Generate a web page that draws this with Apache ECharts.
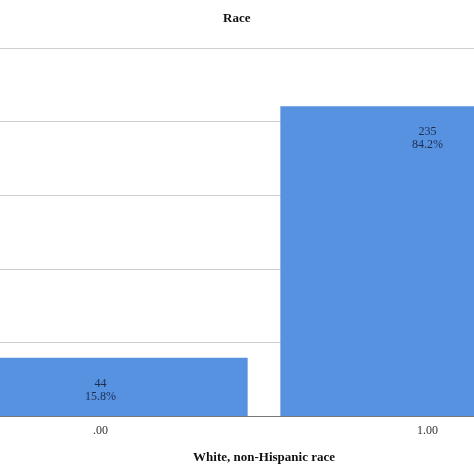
<!DOCTYPE html>
<html><head><meta charset="utf-8">
<script src="https://cdn.jsdelivr.net/npm/echarts@6/dist/echarts.min.js"></script>
<style>html,body{margin:0;padding:0;background:#fff;overflow:hidden;width:474px;height:474px}#c{position:absolute;left:-63px;top:0;width:654px;height:474px}</style>
</head><body><div id="c"></div>
<script>
const categories = ['.00', '1.00'];
const counts = [44, 235];
const percents = [15.8, 84.2];
const yTicks = [0, 20, 40, 60, 80, 100];

const chart = echarts.init(document.getElementById('c'));
chart.setOption({
  animation: false,
  graphic: [{
    type: 'text', left: 300 - 14, top: 12,
    style: { text: 'Race', font: 'bold 13px "Liberation Serif"', fill: '#111' }
  }],
  grid: { left: 0, right: 0, top: 48, height: 368 },
  xAxis: {
    type: 'category', data: categories,
    name: 'White, non-Hispanic race', nameLocation: 'middle', nameGap: 35,
    nameTextStyle: { fontFamily: 'Liberation Serif', fontSize: 13, fontWeight: 'bold', color: '#111' },
    axisLine: { show: true, lineStyle: { color: '#777', width: 1 } },
    axisTick: { show: false },
    axisLabel: { fontFamily: 'Liberation Serif', fontSize: 12, color: '#333', margin: 9 }
  },
  yAxis: {
    type: 'value', min: yTicks[0], max: yTicks[yTicks.length - 1], interval: 20,
    axisLabel: { show: false }, axisLine: { show: false }, axisTick: { show: false },
    splitLine: { show: true, lineStyle: { color: '#cfcfcf', width: 1 } }
  },
  series: [{
    type: 'bar', data: percents, barCategoryGap: '10%',
    itemStyle: { color: '#5692e0' },
    label: {
      show: true, position: 'insideTop', distance: 19,
      fontFamily: 'Liberation Serif', fontSize: 12, color: '#1c2d50', lineHeight: 13,
      formatter: p => counts[p.dataIndex] + '\n' + percents[p.dataIndex].toFixed(1) + '%'
    }
  }]
});
</script></body></html>
